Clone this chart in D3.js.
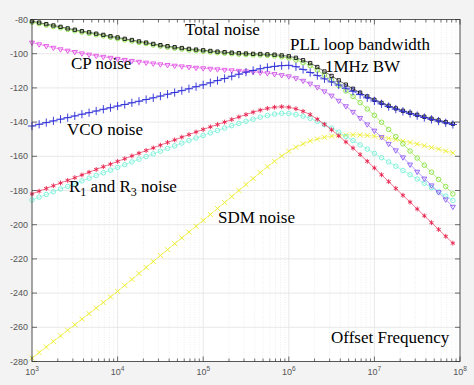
<!DOCTYPE html>
<html>
<head>
<meta charset="utf-8">
<script src="https://cdn.jsdelivr.net/npm/d3@7"></script>
<style>
body{margin:0;background:#f2f2f2;}
svg{display:block;}
.tick-label{font-family:Arial,"Liberation Sans",sans-serif;font-size:9px;fill:#555;}
.note{font-family:"Liberation Serif","Times New Roman",serif;font-size:17px;fill:#000;}
</style>
</head>
<body>
<div id="canvas"></div>
<script>
// offset frequency (Hz), 12 points per decade
var freq = [
  1.000e3,1.212e3,1.468e3,1.778e3,2.154e3,2.610e3,3.162e3,3.831e3,4.642e3,5.623e3,6.813e3,8.254e3,
  1.000e4,1.212e4,1.468e4,1.778e4,2.154e4,2.610e4,3.162e4,3.831e4,4.642e4,5.623e4,6.813e4,8.254e4,
  1.000e5,1.212e5,1.468e5,1.778e5,2.154e5,2.610e5,3.162e5,3.831e5,4.642e5,5.623e5,6.813e5,8.254e5,
  1.000e6,1.212e6,1.468e6,1.778e6,2.154e6,2.610e6,3.162e6,3.831e6,4.642e6,5.623e6,6.813e6,8.254e6,
  1.000e7,1.212e7,1.468e7,1.778e7,2.154e7,2.610e7,3.162e7,3.831e7,4.642e7,5.623e7,6.813e7,8.254e7
];

var totalNoise = [
  -81.0,-81.8,-82.7,-83.5,-84.3,-85.2,-86.0,-86.8,-87.5,-88.3,-89.0,-89.8,
  -90.5,-91.3,-92.0,-92.8,-93.5,-94.3,-95.0,-95.6,-96.2,-96.7,-97.2,-97.6,
  -98.0,-98.4,-98.8,-99.1,-99.4,-99.7,-99.9,-100.1,-100.2,-100.4,-100.6,-101.0,
  -101.5,-102.4,-103.8,-105.5,-107.8,-110.4,-113.0,-115.6,-118.1,-120.5,-122.8,-125.0,
  -127.0,-128.8,-130.5,-132.0,-133.4,-134.6,-135.8,-136.9,-138.0,-139.0,-140.0,-141.0
];
var greenNoise = [
  -81.6,-82.4,-83.3,-84.1,-84.9,-85.8,-86.6,-87.4,-88.1,-88.9,-89.6,-90.4,
  -91.1,-91.9,-92.6,-93.4,-94.1,-94.9,-95.6,-96.2,-96.8,-97.3,-97.8,-98.2,
  -98.6,-99.0,-99.4,-99.7,-100.0,-100.3,-100.5,-100.7,-100.8,-101.0,-101.3,-101.8,
  -102.5,-103.7,-105.2,-107.0,-109.6,-112.5,-115.5,-118.6,-121.8,-125.0,-128.6,-132.3,
  -136.0,-140.1,-144.3,-148.5,-152.7,-156.9,-161.0,-165.2,-169.3,-173.5,-177.7,-182.0
];
var cpNoise = [
  -93.5,-94.5,-95.5,-96.5,-97.4,-98.2,-99.0,-99.8,-100.5,-101.2,-101.8,-102.4,
  -103.0,-103.6,-104.2,-104.7,-105.2,-105.7,-106.2,-106.6,-107.0,-107.4,-107.8,-108.2,
  -108.5,-108.8,-109.1,-109.4,-109.7,-110.0,-110.3,-110.6,-111.0,-111.4,-111.9,-112.5,
  -113.2,-114.3,-115.8,-117.5,-119.6,-122.0,-124.5,-127.5,-130.7,-134.0,-137.6,-141.3,
  -145.0,-148.8,-152.7,-156.5,-160.6,-164.8,-169.0,-173.0,-177.0,-181.0,-185.2,-189.5
];
var vcoNoise = [
  -142.3,-141.3,-140.3,-139.3,-138.3,-137.4,-136.4,-135.4,-134.5,-133.5,-132.5,-131.6,
  -130.6,-129.7,-128.7,-127.8,-126.8,-125.8,-124.8,-123.7,-122.7,-121.6,-120.5,-119.3,
  -118.2,-117.0,-115.7,-114.5,-113.2,-112.0,-110.8,-109.8,-108.8,-108.0,-107.4,-107.0,
  -106.8,-107.6,-109.2,-111.0,-112.8,-114.7,-116.5,-118.3,-120.2,-122.0,-123.9,-125.8,
  -127.6,-129.3,-130.9,-132.4,-133.7,-135.0,-136.2,-137.3,-138.4,-139.4,-140.4,-141.4
];
var r1r3Noise = [
  -182.0,-180.4,-178.8,-177.2,-175.6,-174.1,-172.5,-170.9,-169.3,-167.7,-166.1,-164.6,
  -163.0,-161.4,-159.8,-158.2,-156.6,-155.1,-153.5,-151.9,-150.4,-148.8,-147.3,-145.8,
  -144.3,-142.8,-141.4,-140.0,-138.5,-137.0,-135.6,-134.2,-133.0,-132.0,-131.3,-131.0,
  -131.3,-132.2,-133.7,-135.6,-138.3,-141.3,-144.5,-148.0,-151.6,-155.2,-159.0,-162.9,
  -166.8,-170.8,-174.8,-178.8,-182.8,-186.8,-190.8,-194.8,-198.8,-202.8,-206.8,-210.8
];
var cyanNoise = [
  -185.5,-183.9,-182.3,-180.7,-179.1,-177.6,-176.0,-174.4,-172.8,-171.2,-169.6,-168.1,
  -166.5,-164.9,-163.3,-161.7,-160.1,-158.6,-157.0,-155.4,-153.9,-152.3,-150.8,-149.3,
  -147.8,-146.3,-144.9,-143.5,-142.1,-140.8,-139.5,-138.3,-137.1,-136.1,-135.3,-134.9,
  -135.0,-135.6,-136.5,-137.8,-139.6,-141.5,-143.5,-145.9,-148.4,-150.8,-153.3,-155.8,
  -158.3,-160.8,-163.3,-165.8,-168.3,-170.8,-173.3,-175.8,-178.3,-180.8,-183.3,-185.8
];
var sdmNoise = [
  -278.0,-274.7,-271.5,-268.2,-265.0,-261.7,-258.5,-255.2,-252.0,-248.7,-245.5,-242.2,
  -239.0,-235.5,-232.0,-228.5,-225.0,-221.5,-218.0,-214.6,-211.1,-207.7,-204.3,-200.9,
  -197.5,-194.0,-190.5,-187.0,-183.5,-180.0,-176.5,-173.0,-169.5,-166.1,-162.9,-159.8,
  -157.0,-154.7,-152.7,-151.0,-149.9,-148.9,-148.2,-147.8,-147.5,-147.4,-147.5,-147.8,
  -148.2,-148.8,-149.5,-150.2,-151.1,-151.9,-152.8,-153.8,-154.8,-155.8,-156.9,-158.0
];

var xDecades = [1e3,1e4,1e5,1e6,1e7,1e8];
var xExponents = ['3','4','5','6','7','8'];
var yTicks = [-80,-100,-120,-140,-160,-180,-200,-220,-240,-260,-280];

var W = 474, H = 385;
var m = {t:19.5, r:14, b:23.5, l:32};

var svg = d3.select('#canvas').append('svg')
    .attr('width',W).attr('height',H);
svg.append('rect').attr('width',W).attr('height',H).attr('fill','#f3f3f3');

var scaleX = d3.scaleLog().domain([1e3,1e8]).range([m.l, W-m.r]);
var scaleY = d3.scaleLinear().domain([-280,-80]).range([H-m.b, m.t]);

var x0 = scaleX.range()[0], x1 = scaleX.range()[1],
    y0 = scaleY.range()[0], y1 = scaleY.range()[1];

svg.append('rect')
    .attr('x',x0).attr('y',y1)
    .attr('width',x1-x0).attr('height',y0-y1)
    .attr('fill','#fff');

//grid: minor x (dotted), major x and y (solid)
var minorX = [];
for(var d=3; d<8; d++){
    for(var k=2; k<10; k++) minorX.push(k*Math.pow(10,d));
}
var grid = svg.append('g');
grid.selectAll('.gmx').data(minorX).enter().append('line')
    .attr('x1',scaleX).attr('x2',scaleX).attr('y1',y1).attr('y2',y0)
    .attr('stroke','#e6e6e6').attr('stroke-width',0.7).attr('stroke-dasharray','1,1.5');
grid.selectAll('.gx').data(xDecades).enter().append('line')
    .attr('x1',scaleX).attr('x2',scaleX).attr('y1',y1).attr('y2',y0)
    .attr('stroke','#e2e2e2').attr('stroke-width',0.8);
grid.selectAll('.gy').data(yTicks).enter().append('line')
    .attr('y1',scaleY).attr('y2',scaleY).attr('x1',x0).attr('x2',x1)
    .attr('stroke','#e2e2e2').attr('stroke-width',0.8);

//CP noise colour drifts from magenta to violet
var defs = svg.append('defs');
var grad = defs.append('linearGradient').attr('id','cpgrad')
    .attr('gradientUnits','userSpaceOnUse')
    .attr('x1',scaleX(3e5)).attr('x2',scaleX(2e7)).attr('y1',0).attr('y2',0);
grad.append('stop').attr('offset','0%').attr('stop-color','#e24ee4');
grad.append('stop').attr('offset','100%').attr('stop-color','#8b5cf6');
var cpColor = d3.scaleLog().domain([3e5,2e7]).range(['#e24ee4','#8b5cf6'])
    .interpolate(d3.interpolateRgb).clamp(true);

var series = [
    {name:'SDM', values:sdmNoise, color:'#eded2a', symbol:d3.symbolTimes, size:18, rot:0},
    {name:'cyan', values:cyanNoise, color:'#74f0d6', symbol:d3.symbolCircle, size:16, rot:0},
    {name:'R1R3', values:r1r3Noise, color:'#e8204c', symbol:d3.symbolAsterisk, size:16, rot:0},
    {name:'CP', values:cpNoise, color:'url(#cpgrad)', markColor:cpColor, symbol:d3.symbolTriangle2, size:18, rot:180},
    {name:'green', values:greenNoise, color:'#86e23a', symbol:d3.symbolCircle, size:16, rot:0},
    {name:'total', values:totalNoise, color:'#111', symbol:d3.symbolSquare2, size:14, rot:0},
    {name:'VCO', values:vcoNoise, color:'#2a2ad8', symbol:d3.symbolPlus, size:24, rot:0}
];

var line = d3.line()
    .x(function(d){return scaleX(d.f)})
    .y(function(d){return scaleY(d.v)});

var plot = svg.append('g');
series.forEach(function(s){
    var pts = freq.map(function(f,i){return {f:f, v:s.values[i]}});
    var g = plot.append('g').attr('class','series');
    g.append('path').datum(pts)
        .attr('d',line).attr('fill','none')
        .attr('stroke',s.color).attr('stroke-width',0.6);
    g.selectAll('.mk').data(pts).enter().append('path')
        .attr('class','mk')
        .attr('d',d3.symbol().type(s.symbol).size(s.size))
        .attr('transform',function(d){
            return 'translate('+scaleX(d.f)+','+scaleY(d.v)+') rotate('+s.rot+')';
        })
        .attr('fill','none')
        .attr('stroke',function(d){return s.markColor ? s.markColor(d.f) : s.color})
        .attr('stroke-width',0.9);
});

//axes (ticks inside, box)
var axisColor = '#333';
var box = svg.append('g');
box.append('rect').attr('x',x0).attr('y',y1).attr('width',x1-x0).attr('height',y0-y1)
    .attr('fill','none').attr('stroke',axisColor).attr('stroke-width',0.8);

var xt = minorX.map(function(v){return {v:v, len:3}})
    .concat(xDecades.map(function(v){return {v:v, len:5}}));
box.selectAll('.xtb').data(xt).enter().append('line')
    .attr('x1',function(d){return scaleX(d.v)}).attr('x2',function(d){return scaleX(d.v)})
    .attr('y1',y0).attr('y2',function(d){return y0-d.len})
    .attr('stroke',axisColor).attr('stroke-width',0.7);
box.selectAll('.xtt').data(xt).enter().append('line')
    .attr('x1',function(d){return scaleX(d.v)}).attr('x2',function(d){return scaleX(d.v)})
    .attr('y1',y1).attr('y2',function(d){return y1+d.len})
    .attr('stroke',axisColor).attr('stroke-width',0.7);
box.selectAll('.ytl').data(yTicks).enter().append('line')
    .attr('y1',scaleY).attr('y2',scaleY).attr('x1',x0).attr('x2',x0+5)
    .attr('stroke',axisColor).attr('stroke-width',0.7);
box.selectAll('.ytr').data(yTicks).enter().append('line')
    .attr('y1',scaleY).attr('y2',scaleY).attr('x1',x1).attr('x2',x1-5)
    .attr('stroke',axisColor).attr('stroke-width',0.7);

box.selectAll('.ylab').data(yTicks).enter().append('text')
    .attr('class','tick-label')
    .attr('x',x0-4).attr('y',function(d){return scaleY(d)+3})
    .attr('text-anchor','end')
    .text(function(d){return d});

var xl = box.selectAll('.xlab').data(xDecades).enter().append('text')
    .attr('class','tick-label')
    .attr('x',scaleX).attr('y',y0+13)
    .attr('text-anchor','middle');
xl.append('tspan').text('10');
xl.append('tspan').attr('dy',-4).attr('font-size','6.5px')
    .text(function(d,i){return xExponents[i]});

//annotations
function note(x,y,str){
    return svg.append('text').attr('class','note').attr('x',x).attr('y',y).text(str);
}
note(185,34.5,'Total noise');
note(290,50,'PLL loop bandwidth');
note(325,71.5,'1MHz BW');
note(71,68.5,'CP noise');
note(67,135,'VCO noise');
note(218,222.5,'SDM noise');
note(331,343,'Offset Frequency');

var r = svg.append('text').attr('class','note').attr('x',69).attr('y',191.5);
r.append('tspan').text('R');
r.append('tspan').attr('dy',4).attr('font-size','12px').text('1');
r.append('tspan').attr('dy',-4).text(' and R');
r.append('tspan').attr('dy',4).attr('font-size','12px').text('3');
r.append('tspan').attr('dy',-4).text(' noise');
</script>
</body>
</html>
